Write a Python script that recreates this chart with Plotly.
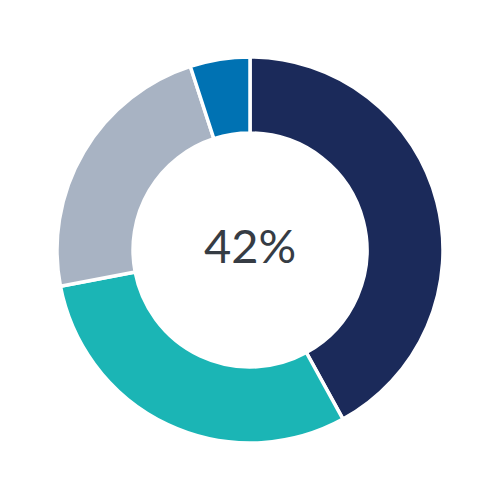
import plotly.graph_objects as go

labels = ['Navy', 'Teal', 'Gray', 'Blue']
values = [42, 30, 23, 5]
colors = ['#1b2a5a', '#1bb5b5', '#a8b3c3', '#0072b3']
center_text = '42%'

fig = go.Figure(go.Pie(labels=labels,
                       values=values,
                       hole=0.606,
                       sort=False,
                       direction='clockwise',
                       rotation=0,
                       textinfo='none',
                       hoverinfo='label+percent',
                       marker=dict(colors=colors, line=dict(color='white', width=3.5))))

fig.add_annotation(text=center_text, x=0.5, y=0.5, xref='paper', yref='paper',
                   showarrow=False, yshift=5,
                   font=dict(family='Lato', size=47, color='#363c44'))

# the page body adds an 8px margin, so shift the plot up and left
fig.update_layout(width=500, height=500, showlegend=False,
                  paper_bgcolor='white', plot_bgcolor='white',
                  margin={'l':49, 'r':65, 't':49, 'b':65})
fig.write_html('out.html')
